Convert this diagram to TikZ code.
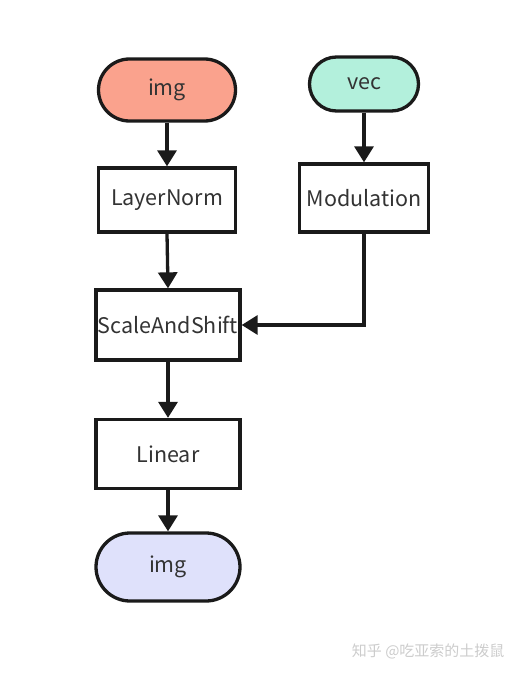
\documentclass[tikz,border=0pt]{standalone}
\usepackage{fontspec}
\setmainfont{Noto Sans CJK SC}
\newfontfamily\cjk{Noto Sans CJK SC}
\usetikzlibrary{arrows.meta}
\definecolor{salmon}{HTML}{FAA28D}
\definecolor{mint}{HTML}{B3F0DC}
\definecolor{lav}{HTML}{DFE1FB}
\definecolor{stroke}{HTML}{1A1A1A}
\definecolor{txt}{HTML}{333333}
\begin{document}
\begin{tikzpicture}[x=1pt,y=-1pt,
  base/.style={draw=stroke,line width=3.3pt,inner sep=0pt,text=txt,font=\fontsize{21.5}{25}\selectfont},
  boxnode/.style={base,fill=white},
  term/.style={base,rounded corners=31pt},
  conn/.style={draw=stroke,line width=3.3pt,-{Triangle[length=16pt,width=19pt]}}]
\useasboundingbox (0,0) rectangle (522,674);
\node[term,fill=salmon,minimum width=137pt,minimum height=62pt] (img1) at (167,90) {img};
\node[term,fill=mint,minimum width=109pt,minimum height=54pt,rounded corners=27pt] (vec) at (364,84) {vec};
\node[boxnode,minimum width=137pt,minimum height=64pt] (ln) at (167,200) {LayerNorm};
\node[boxnode,minimum width=129pt,minimum height=68pt] (mod) at (364,198) {Modulation};
\node[boxnode,minimum width=144pt,minimum height=70pt] (sas) at (168,325) {ScaleAndShift};
\node[boxnode,minimum width=144pt,minimum height=69pt] (lin) at (168,454) {Linear};
\node[term,fill=lav,minimum width=144pt,minimum height=68pt,rounded corners=34pt] (img2) at (168,567) {img};
\draw[conn] (img1) -- (ln);
\draw[conn] (vec) -- (mod);
\draw[conn] (ln.south) -- (sas.north);
\draw[conn] (mod.south) |- (sas.east);
\draw[conn] (sas) -- (lin);
\draw[conn] (lin) -- (img2);
\node[text=black!20,font=\cjk\fontsize{15}{17}\selectfont,anchor=east] (wm) at (508,651) {知乎 @吃亚索的土拨鼠};
\end{tikzpicture}
\end{document}
